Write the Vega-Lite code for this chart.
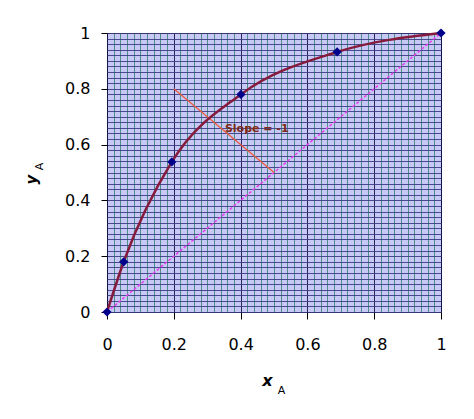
{
  "$schema": "https://vega.github.io/schema/vega-lite/v6.json",
  "width": 334,
  "height": 279,
  "autosize": {"type": "none"},
  "padding": {"left": 107, "top": 33, "right": 33, "bottom": 107},
  "background": "white",
  "config": {
    "view": {"fill": "#c8c8f6", "stroke": "#000000", "strokeWidth": 1},
    "axis": {"labelFont": "DejaVu Sans", "labelFontSize": 16, "labelColor": "#000000", "titleColor": "#000000"}
  },
  "datasets": {
    "equilibrium": [
      {"x": 0, "y": 0},
      {"x": 0.05, "y": 0.18},
      {"x": 0.194, "y": 0.538},
      {"x": 0.401, "y": 0.78},
      {"x": 0.689, "y": 0.932},
      {"x": 1, "y": 1}
    ],
    "diagonal": [{"x": 0, "y": 0}, {"x": 1, "y": 1}],
    "slope": [{"x": 0.2, "y": 0.8}, {"x": 0.5, "y": 0.5}],
    "note": [{"x": 0.353, "y": 0.656, "label": "Slope = -1"}]
  },
  "resolve": {"axis": {"x": "independent", "y": "independent"}},
  "layer": [
    {
      "data": {"name": "diagonal"},
      "mark": {"type": "line", "color": "#e83cf0", "strokeWidth": 1.5, "strokeDash": [3, 2]},
      "encoding": {
        "x": {
          "field": "x", "type": "quantitative",
          "scale": {"domain": [0, 1], "nice": false, "zero": false},
          "axis": {
            "orient": "bottom", "tickCount": 50, "domain": false,
            "grid": true, "gridOpacity": 0.9, "gridWidth": 1,
            "gridColor": {"condition": {"test": "abs(datum.value*5-round(datum.value*5))<0.001", "value": "#14144c"}, "value": "#3f8a7c"},
            "ticks": true, "tickSize": 7, "tickColor": "#000000",
            "tickOpacity": {"condition": {"test": "abs(datum.value*5-round(datum.value*5))<0.001", "value": 1}, "value": 0},
            "labelExpr": "abs(datum.value*5-round(datum.value*5))<0.001 ? format(datum.value,'~g') : ''",
            "labelOverlap": false, "labelFlush": false, "labelPadding": 17,
            "title": "x", "titleFont": "DejaVu Sans", "titleFontSize": 16, "titleFontWeight": "bold", "titleFontStyle": "italic",
            "titleX": 160, "titleY": 73, "titleAlign": "center", "titleBaseline": "alphabetic", "titleAngle": 0
          }
        },
        "y": {
          "field": "y", "type": "quantitative",
          "scale": {"domain": [0, 1], "nice": false, "zero": false},
          "axis": {
            "orient": "left", "tickCount": 50, "domain": false,
            "grid": true, "gridOpacity": 0.9, "gridWidth": 1, "gridColor": "#3c3c84",
            "ticks": true, "tickSize": 6, "tickColor": "#000000",
            "tickOpacity": {"condition": {"test": "abs(datum.value*5-round(datum.value*5))<0.001", "value": 1}, "value": 0},
            "labelExpr": "abs(datum.value*5-round(datum.value*5))<0.001 ? format(datum.value,'~g') : ''",
            "labelOverlap": false, "labelFlush": false, "labelPadding": 11,
            "title": "y", "titleFont": "DejaVu Sans", "titleFontSize": 15, "titleFontWeight": "bold", "titleFontStyle": "italic",
            "titleX": -71, "titleY": 146, "titleAlign": "center", "titleBaseline": "alphabetic", "titleAngle": 270
          }
        }
      }
    },
    {
      "data": {"name": "slope"},
      "mark": {"type": "line", "color": "#f05a3c", "strokeWidth": 1.3},
      "encoding": {
        "x": {"field": "x", "type": "quantitative", "axis": null},
        "y": {"field": "y", "type": "quantitative", "axis": null}
      }
    },
    {
      "data": {"name": "equilibrium"},
      "mark": {"type": "line", "color": "#861a3c", "strokeWidth": 2.5, "interpolate": "monotone"},
      "encoding": {
        "x": {"field": "x", "type": "quantitative", "axis": null},
        "y": {"field": "y", "type": "quantitative", "axis": null}
      }
    },
    {
      "data": {"name": "equilibrium"},
      "mark": {"type": "point", "shape": "diamond", "filled": true, "color": "#00008b", "size": 85, "opacity": 1},
      "encoding": {
        "x": {"field": "x", "type": "quantitative", "axis": null},
        "y": {"field": "y", "type": "quantitative", "axis": null}
      }
    },
    {
      "data": {"name": "note"},
      "mark": {"type": "text", "align": "left", "baseline": "middle", "font": "DejaVu Sans", "fontSize": 11, "fontWeight": "bold", "color": "#7e2a16"},
      "encoding": {
        "x": {
          "field": "x", "type": "quantitative",
          "axis": {
            "orient": "bottom", "grid": false, "ticks": false, "labels": false, "domain": false,
            "title": "A", "titleFont": "DejaVu Sans", "titleFontSize": 11, "titleFontWeight": "normal",
            "titleX": 174, "titleY": 81, "titleAlign": "center", "titleBaseline": "alphabetic", "titleAngle": 0
          }
        },
        "y": {
          "field": "y", "type": "quantitative",
          "axis": {
            "orient": "left", "grid": false, "ticks": false, "labels": false, "domain": false,
            "title": "A", "titleFont": "DejaVu Sans", "titleFontSize": 11, "titleFontWeight": "normal",
            "titleX": -65, "titleY": 133, "titleAlign": "center", "titleBaseline": "alphabetic", "titleAngle": 270
          }
        },
        "text": {"field": "label"}
      }
    }
  ]
}
